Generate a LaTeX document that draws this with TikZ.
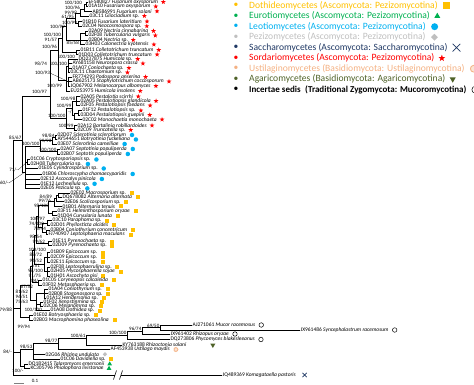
\documentclass[tikz,border=0pt]{standalone}
\usepackage{fontspec}
\setmainfont{Carlito}
\usetikzlibrary{shapes.geometric,shapes.misc,positioning}
\definecolor{dothc}{HTML}{FFC000}
\definecolor{euroc}{HTML}{00B050}
\definecolor{leoc}{HTML}{00B0F0}
\definecolor{pezc}{HTML}{BFBFBF}
\definecolor{saccc}{HTML}{1F3864}
\definecolor{sordc}{HTML}{FF0000}
\definecolor{ustc}{HTML}{F4B183}
\definecolor{ustl}{HTML}{FBE5D6}
\definecolor{agarc}{HTML}{4F6228}
\newcommand{\leaffont}{\fontsize{5.5}{6}\selectfont}
\newcommand{\bsfont}{\fontsize{5}{5.5}\selectfont}
\newcommand{\legfont}{\fontsize{9.6}{11}\selectfont}
\tikzset{
  br/.style={line width=0.6pt},
  tip/.style={anchor=west, inner sep=0.4pt, font=\leaffont},
  bs/.style={anchor=east, inner sep=0pt, font=\bsfont},
  sordm/.style={star, star points=5, star point ratio=2.4, fill=sordc, inner sep=0pt, minimum size=#1},
  sordm/.default=5pt,
  dothm/.style={rectangle, fill=dothc, inner sep=0pt, minimum size=#1},
  dothm/.default=4pt,
  eurom/.style={regular polygon, regular polygon sides=3, fill=euroc, inner sep=0pt, minimum size=#1},
  eurom/.default=5.5pt,
  leom/.style={circle, fill=leoc, inner sep=0pt, minimum size=#1},
  leom/.default=4.5pt,
  pezm/.style={diamond, fill=pezc, inner sep=0pt, minimum size=#1},
  pezm/.default=4.5pt,
  saccm/.style={cross out, draw=saccc, line width=0.7pt, inner sep=0pt, minimum size=#1},
  saccm/.default=3.5pt,
  ustm/.style={circle, draw=ustc, fill=ustl, line width=1pt, dash pattern=on 0.5pt off 0.4pt, inner sep=0pt, minimum size=#1},
  ustm/.default=4pt,
  agarm/.style={regular polygon, regular polygon sides=3, shape border rotate=180, fill=agarc, inner sep=0pt, minimum size=#1},
  agarm/.default=6pt,
  incm/.style={circle, draw=black, line width=0.5pt, inner sep=0pt, minimum size=#1},
  incm/.default=4.5pt,
  sordtip/.style={tip, label={[sordm, label distance=3pt]right:{}}},
  dothtip/.style={tip, label={[dothm, label distance=3pt]right:{}}},
  eurotip/.style={tip, label={[eurom, label distance=3pt]right:{}}},
  leotip/.style={tip, label={[leom, label distance=3pt]right:{}}},
  peztip/.style={tip, label={[pezm, label distance=3pt]right:{}}},
  sacctip/.style={tip, label={[saccm, label distance=6pt]right:{}}},
  usttip/.style={tip, label={[ustm, label distance=3pt]right:{}}},
  agartip/.style={tip, label={[agarm, label distance=24pt]right:{}}},
  inctip/.style={tip, label={[incm, label distance=3pt]right:{}}},
  legtxt/.style={anchor=west, inner sep=0pt, font=\legfont},
}

\begin{document}
\begin{tikzpicture}[x=1pt,y=-1pt]
  \useasboundingbox (0,0) rectangle (474,385);

  % Sordariomycetes
  \node[sordtip] (L1) at (88,2) {EF580827 \textit{Fusarium oxysporum}};
  \node[sordtip] (L2) at (88,6.5) {01A10 \textit{Fusarium oxysporum}};
  \node[sordtip] (L3) at (92,11.3) {AB586991 \textit{Fusarium solani}};
  \node[sordtip] (L4) at (89,15.9) {03C11 \textit{Gliocladium} sp.};
  \node[sordtip] (L5) at (82,21.4) {01B10 \textit{Fusarium lateritium}};
  \node[sordtip] (L6) at (82,26.1) {02C04 \textit{Neocosmospora} sp.};
  \node[sordtip] (L7) at (88,31) {02A09 \textit{Nectria cinnabarina}};
  \node[sordtip] (L8) at (88,35.5) {02F08 \textit{Tubercularia vulgaris}};
  \node[sordtip] (L9) at (88,40) {02B04 \textit{Nectria} sp.};
  \node[sordtip] (L10) at (85,44.5) {03H03 \textit{Calonectria kyotensis}};
  \node[sordtip] (L11) at (80,50) {01B11 \textit{Colletotrichum truncatum}};
  \node[sordtip] (L12) at (78,54.5) {01D03 \textit{Colletotrichum truncatum}};
  \node[sordtip] (L13) at (78,59) {DQ237875 \textit{Humicola} sp.};
  \node[sordtip] (L14) at (72,63.5) {AY681158 \textit{Neurospora crassa}};
  \node[sordtip] (L15) at (72,68) {01A07 \textit{Coniochaeta} sp.};
  \node[sordtip] (L16) at (70,72.5) {03C11 \textit{Chaetomium} sp.};
  \node[sordtip] (L17) at (72,77) {FR774293 \textit{Podospora anserina}};
  \node[sordtip] (L18) at (72,81.5) {AB625173 \textit{Staphylotrichum coccosporum}};
  \node[sordtip] (L19) at (70,86) {JQ067902 \textit{Melanocarpus albomyces}};
  \node[sordtip] (L20) at (70,91) {EU253975 \textit{Humicola insolens}};
  \node[sordtip] (L21) at (80,96.5) {02A05 \textit{Pestalotia scirrhi}};
  \node[sordtip] (L22) at (80,101) {02A05 \textit{Pestalotiopsis glandicola}};
  \node[sordtip] (L23) at (80,105.5) {02F05 \textit{Pestalotiopsis foedans}};
  \node[sordtip] (L24) at (82,110.5) {01F12 \textit{Pestalotiopsis} sp.};
  \node[sordtip] (L25) at (80,115) {03D04 \textit{Pestalotiopsis guepini}};
  \node[sordtip] (L26) at (82,119.5) {02C02 \textit{Monochaetia monochaeta}};
  \node[sordtip] (L27) at (77,125.5) {02A12 \textit{Bartalinia robillardoides}};
  \node[sordtip] (L28) at (77,130) {02C09 \textit{Truncatella} sp.};

  % Leotiomycetes
  \node[leotip] (L29) at (57,135) {02D07 \textit{Sclerotinia sclerotiorum}};
  \node[leotip] (L30) at (57,139.5) {AY544651 \textit{Botryotinia fuckeliana}};
  \node[leotip] (L31) at (57,144) {03E07 \textit{Sclerotinia camelliae}};
  \node[leotip] (L32) at (60,149) {02A07 \textit{Septotinia populiperda}};
  \node[leotip] (L33) at (60,154) {02B07 \textit{Septotis populiperda}};
  \node[leotip] (L34) at (30,159.5) {01C06 \textit{Cryptosporiopsis} sp.};
  \node[leotip] (L35) at (30,164) {02H08 \textit{Tubercularia} sp.};
  \node[leotip] (L36) at (38,168.5) {01E05 \textit{Cylindrosporium} sp.};
  \node[leotip] (L37) at (42,174) {01B06 \textit{Chloroscypha chamaecyparidis}};
  \node[leotip] (L38) at (40,179) {02E12 \textit{Ascocalyx pinicola}};
  \node[leotip] (L39) at (40,183.8) {01E12 \textit{Lachnellula} sp.};
  \node[leotip] (L40) at (40,188.4) {02E05 \textit{Pezicula} sp.};

  % Dothideomycetes
  \node[dothtip] (L41) at (70,193) {02E02 \textit{Macrosporium} sp.};
  \node[dothtip] (L42) at (62,197.3) {DQ678082 \textit{Alternaria alternata}};
  \node[dothtip] (L43) at (64,201.6) {02E06 \textit{Scolicosporium} sp.};
  \node[dothtip] (L44) at (62,206.2) {01B01 \textit{Alternaria tenuis}};
  \node[dothtip] (L45) at (57,211) {03F11 \textit{Helminthosporium oryzae}};
  \node[dothtip] (L46) at (57,215.5) {01D04 \textit{Curvularia lunata}};
  \node[dothtip] (L47) at (52,220.5) {03C10 \textit{Paraphoma} sp.};
  \node[dothtip] (L48) at (50,225) {02D01 \textit{Phyllosticta alcides}};
  \node[dothtip] (L49) at (50,230) {03B04 \textit{Coniothyrium concentricum}};
  \node[dothtip] (L50) at (48,234.5) {FJ740907 \textit{Leptosphaeria maculans}};
  \node[dothtip] (L51) at (52,241.5) {01E11 \textit{Pyrenochaeta} sp.};
  \node[dothtip] (L52) at (52,245.5) {02D09 \textit{Pyrenochaeta} sp.};
  \node[dothtip] (L53) at (50,252.5) {01B09 \textit{Epicoccum} sp.};
  \node[dothtip] (L54) at (50,257) {02C09 \textit{Epicoccum} sp.};
  \node[dothtip] (L55) at (50,262) {02E11 \textit{Epicoccum} sp.};
  \node[dothtip] (L56) at (50,267) {02F08 \textit{Leptosphaerulina} sp.};
  \node[dothtip] (L57) at (50,271.5) {02H05 \textit{Mycosphaerella sojae}};
  \node[dothtip] (L58) at (50,275.8) {01H01 \textit{Ascochyta pisi}};
  \node[dothtip] (L59) at (42,280.1) {01C05 \textit{Coryneopsis calcaleida}};
  \node[dothtip] (L60) at (42,284.8) {03F02 \textit{Metasphaeria} sp.};
  \node[dothtip] (L61) at (48,289.3) {01A04 \textit{Coniothyrium} sp.};
  \node[dothtip] (L62) at (48,293.7) {02B08 \textit{Stagonospora} sp.};
  \node[dothtip] (L63) at (46,298) {01A12 \textit{Hendersonia} sp.};
  \node[dothtip] (L64) at (43,302.1) {01F02 \textit{Xenostigmina} sp.};
  \node[dothtip] (L65) at (43,306.3) {02C06 \textit{Melanomma} sp.};
  \node[dothtip] (L66) at (50,310.5) {01A08 \textit{Dothidea} sp.};
  \node[dothtip] (L67) at (33,315) {01E02 \textit{Botryosphaeria} sp.};
  \node[dothtip] (L68) at (33,320) {02B03 \textit{Macrophomina phaseolina}};

  % lower clades
  \node[inctip] (L69) at (192,325) {AJ271061 \textit{Mucor racemosus}};
  \node[inctip] (L70) at (300,330) {JX961486 \textit{Syncephalastrum racemosum}};
  \node[inctip] (L71) at (170,334) {JX961402 \textit{Rhizopus oryzae}};
  \node[inctip] (L72) at (170,339.5) {DQ273806 \textit{Phycomyces blakesleeanus}};
  \node[agartip] (L73) at (122,345) {KY763188 \textit{Rhizoctonia solani}};
  \node[usttip] (L74) at (110,349.5) {AF453938 \textit{Ustilago maydis}};
  \node[peztip] (L75) at (45,354.3) {02G06 \textit{Rhizina undulata}};
  \node[dothtip] (L76) at (60,359.4) {01C06 \textit{Davidiella} sp.};
  \node[eurotip] (L77) at (28,364) {DQ182415 \textit{Talaromyces emersonii}};
  \node[eurotip] (L78) at (30,368.5) {KC305796 \textit{Phialophora livistonae}};
  \node[sacctip] (L79) at (222,375) {JQ489369 \textit{Komagataella pastoris}};

  % inner nodes
  \coordinate (n1) at (86,4);     \coordinate (n2) at (84,9);
  \coordinate (n3) at (80,13);    \coordinate (n4) at (78,23.5);
  \coordinate (n5) at (75,18);    \coordinate (n6a) at (85,33);
  \coordinate (n6) at (80,40);    \coordinate (n7) at (66,26);
  \coordinate (n8) at (76,52);    \coordinate (n9) at (62,38);
  \coordinate (n10) at (68,66);   \coordinate (n11) at (68,81.5);
  \coordinate (n12) at (66,80);   \coordinate (n13) at (58,50);
  \coordinate (n14) at (76,101);  \coordinate (n15) at (78,113);
  \coordinate (n16) at (74,115);  \coordinate (n17) at (72,108);
  \coordinate (n18) at (74,128);  \coordinate (n19) at (66,118);
  \coordinate (S) at (50,96);
  \coordinate (n20a) at (55,137); \coordinate (n20) at (52,140);
  \coordinate (n21) at (57,151.5); \coordinate (n22) at (40,146);
  \coordinate (n23) at (27,162);  \coordinate (Leo) at (25,172);
  \coordinate (A) at (22,140);
  \coordinate (n24) at (58,195);  \coordinate (n25) at (56,198.5);
  \coordinate (n26) at (54,201.5); \coordinate (n27) at (52,213);
  \coordinate (n28) at (48,205);  \coordinate (n29) at (47,223);
  \coordinate (n30) at (46,232);  \coordinate (n31) at (42,227);
  \coordinate (n40) at (38,216);  \coordinate (n32) at (48,243.5);
  \coordinate (n41) at (36,235);  \coordinate (n33) at (47,257);
  \coordinate (n34) at (47,271);  \coordinate (n35) at (44,264);
  \coordinate (n42) at (34,250);  \coordinate (n36) at (38,282.5);
  \coordinate (n43) at (32,266);  \coordinate (n37) at (44,293.5);
  \coordinate (n38) at (40,304.2); \coordinate (n39) at (36,300);
  \coordinate (n44) at (30,285);  \coordinate (n45) at (29,317.5);
  \coordinate (D) at (20,308);
  \coordinate (nM1) at (160,327.5); \coordinate (nM2) at (142,331);
  \coordinate (nM3) at (127,335); \coordinate (nF) at (86,338);
  \coordinate (nJ) at (58,343);   \coordinate (nI) at (33,349);
  \coordinate (nEur) at (24,366); \coordinate (nH) at (20,352);
  \coordinate (R) at (13,140);
  \coordinate (brkA) at (115,375); \coordinate (brkB) at (121,375);

  % branches
  \foreach \a/\b in {n1/L1,n1/L2,n2/n1,n2/L3,n3/n2,n3/L4,n4/L5,n4/L6,n5/n3,n5/n4,
    n6a/L7,n6a/L8,n6/n6a,n6/L9,n6/L10,n7/n5,n7/n6,n8/L11,n8/L12,n9/n7,n9/n8,
    n10/L13,n10/L14,n10/L15,n10/L16,n11/L17,n11/L18,n11/L19,n12/n10,n12/n11,
    n12/L20,n13/n9,n13/n12,n14/L21,n14/L22,n14/L23,n15/L24,n15/L25,n16/n15,
    n16/L26,n17/n14,n17/n16,n18/L27,n18/L28,n19/n17,n19/n18,S/n13,S/n19,
    n20a/L29,n20a/L30,n20/n20a,n20/L31,n21/L32,n21/L33,n22/n20,n22/n21,
    n23/L34,n23/L35,Leo/n22,Leo/n23,Leo/L36,Leo/L37,Leo/L38,Leo/L39,Leo/L40,
    A/S,A/Leo,
    n24/L41,n24/L42,n25/n24,n25/L43,n26/n25,n26/L44,n27/L45,n27/L46,n28/n26,
    n28/n27,n29/L47,n29/L48,n30/L49,n30/L50,n31/n29,n31/n30,n40/n28,n40/n31,
    n32/L51,n32/L52,n41/n40,n41/n32,n33/L53,n33/L54,n33/L55,n34/L56,n34/L57,
    n34/L58,n35/n33,n35/n34,n42/n41,n42/n35,n36/L59,n36/L60,n43/n42,n43/n36,
    n37/L61,n37/L62,n37/L63,n38/L64,n38/L65,n39/n37,n39/n38,n39/L66,n44/n43,
    n44/n39,n45/L67,n45/L68,D/n44,D/n45,
    nM1/L69,nM1/L70,nM2/nM1,nM2/L71,nM3/nM2,nM3/L72,nF/nM3,nF/L73,nJ/nF,
    nJ/L74,nI/nJ,nI/L75,nI/L76,nEur/L77,nEur/L78,nH/nI,nH/nEur,
    R/A,R/D,R/nH,R/brkA}
    \draw[br] (\a) |- (\b);
  \draw[br] (brkB) -- (L79);
  \draw[br] (113.5,379.5) -- (116.5,370.5) (119.5,379.5) -- (122.5,370.5);

  % support values
  \foreach \x/\y/\v [count=\k] in {82/2.5/{100/100},80/7.5/{100/96},
    77/12.5/{99/98},74/17/{61/95},77/22.5/{100/99},65/27/{100/99},
    61/35/{100/100},57/40/{91/57},79/43/{85/58},57/47/{100/96},
    75/56.5/{100/100},47/64/{98/74},67/64/{100/100},62/86/{100/99},
    47/92/{100/97},75.5/99/{100/98},71.5/105.5/{100/99},73.5/111.5/{-/-},
    65.5/115.5/{100/100},73.5/126/{100/99},
    54.5/135.5/{98/84},51.5/141/{99/93},39.5/143.5/{100/100},
    56.5/150/{100/100},21.5/137.5/{85/67},
    52/196.5/{84/89},51/201/{99/76},49/205.8/{98/100},45/219/{100/97},
    44/224/{74/100},46/229/{76/44},42/237/{98/54},45/241.5/{99/62},
    46/250/{100/100},42/255/{87/72},42/261/{96/52},40/266/{-/51},
    43/271/{98/100},41/276/{91/75},40/281/{84/-},33/287/{67/52},
    28/292/{81/62},28/297/{96/51},28/301.5/{75/63},42/310/{100/100},
    12/310/{79/88},30/327/{99/94},
    159.5/325.5/{69/50},141.5/329/{96/74},126.5/333/{100/100},
    85.5/336/{100/61},57.5/341/{98/77},32.5/347/{98/53},
    23.5/370.5/{100/-},12/352/{84/-}}
    \node[bs] (bs\k) at (\x,\y) {\v};
  \node[bs] (b93) at (50,73) {100/93};
  \draw[very thin] (b93.east) -- (n11);
  \node[bs] (b71) at (18,170) {71/-};
  \draw[very thin] (b71.east) -- (n23);
  \node[bs, anchor=west] (b60) at (0,183) {60/-};
  \draw[very thin] (b60.east) -- (Leo);

  % scale
  \draw[gray, line width=0.8pt] (14,383.5) coordinate (sc1) -- (24,383.5) coordinate (sc2);
  \node[bs, anchor=center] (sc) at (35,381) {0.1};

  % legend
  \foreach \i/\t/\c/\m in {
    1/{Dothideomycetes (Ascomycota: Pezizomycotina)}/dothc/dothm,
    2/{Eurotiomycetes (Ascomycota: Pezizomycotina)}/euroc/eurom,
    3/{Leotiomycetes (Ascomycota: Pezizomycotina)}/leoc/leom,
    4/{Pezizomycetes (Ascomycota: Pezizomycotina)}/pezc/pezm,
    5/{Saccharomycetes (Ascomycota: Saccharomycotina)}/saccc/saccm,
    6/{Sordariomycetes (Ascomycota: Pezizomycotina)}/sordc/sordm,
    7/{Ustilaginomycetes (Basidiomycota: Ustilaginomycotina)}/ustc/ustm,
    8/{Agaricomycetes (Basidiomycota: Agaricomycotina)}/agarc/agarm,
    9/{\fontsize{9}{11}\selectfont\bfseries Incertae sedis\enspace(Traditional Zygomycota: Mucoromycotina)}/black/incm}
  {
    \node[legtxt, text=\c] (lg\i) at (249,{5.7+10.5*(\i-1)}) {\t};
    \node[legtxt, text=\c, anchor=center] (lb\i) at (236,{5.7+10.5*(\i-1)}) {\textbullet};
    \node[\m=7pt, right=5pt of lg\i] (lm\i) {};
  }
\end{tikzpicture}
\end{document}
